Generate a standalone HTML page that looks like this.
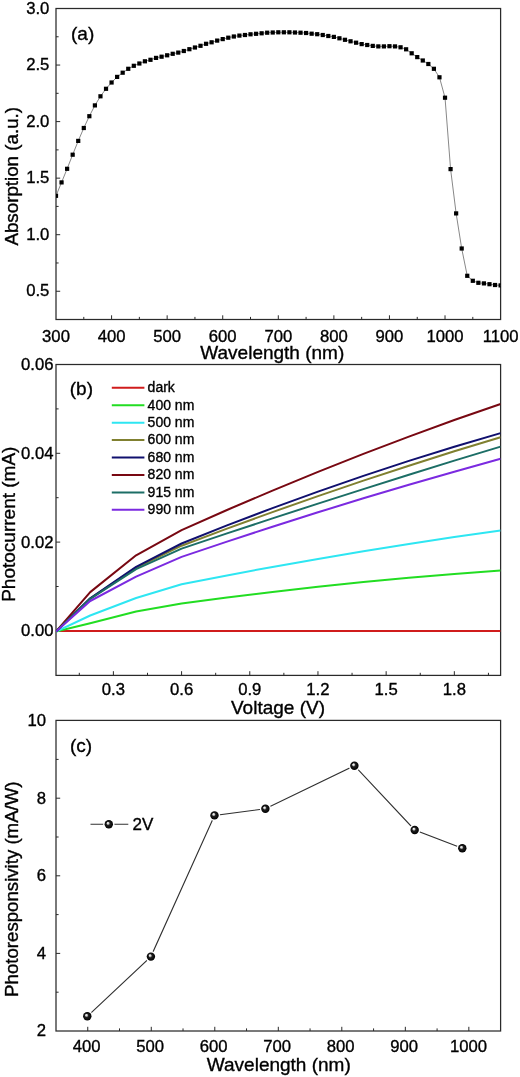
<!DOCTYPE html>
<html><head><meta charset="utf-8"><title>Figure</title>
<style>html,body{margin:0;padding:0;background:#fff;}body{width:520px;height:1077px;overflow:hidden;}svg{display:block;}text{font-family:'Liberation Sans', Arial, sans-serif;}</style>
</head><body>
<svg width="520" height="1077" viewBox="0 0 520 1077" font-family="'Liberation Sans', Arial, sans-serif" fill="#000"><rect x="56.0" y="8.5" width="444.60" height="311.00" fill="none" stroke="#2a2a2a" stroke-width="1.25"/>
<line x1="83.79" y1="319.5" x2="83.79" y2="316.90" stroke="#2a2a2a" stroke-width="1"/>
<line x1="111.58" y1="319.5" x2="111.58" y2="315.30" stroke="#2a2a2a" stroke-width="1"/>
<line x1="139.36" y1="319.5" x2="139.36" y2="316.90" stroke="#2a2a2a" stroke-width="1"/>
<line x1="167.15" y1="319.5" x2="167.15" y2="315.30" stroke="#2a2a2a" stroke-width="1"/>
<line x1="194.94" y1="319.5" x2="194.94" y2="316.90" stroke="#2a2a2a" stroke-width="1"/>
<line x1="222.72" y1="319.5" x2="222.72" y2="315.30" stroke="#2a2a2a" stroke-width="1"/>
<line x1="250.51" y1="319.5" x2="250.51" y2="316.90" stroke="#2a2a2a" stroke-width="1"/>
<line x1="278.30" y1="319.5" x2="278.30" y2="315.30" stroke="#2a2a2a" stroke-width="1"/>
<line x1="306.09" y1="319.5" x2="306.09" y2="316.90" stroke="#2a2a2a" stroke-width="1"/>
<line x1="333.88" y1="319.5" x2="333.88" y2="315.30" stroke="#2a2a2a" stroke-width="1"/>
<line x1="361.66" y1="319.5" x2="361.66" y2="316.90" stroke="#2a2a2a" stroke-width="1"/>
<line x1="389.45" y1="319.5" x2="389.45" y2="315.30" stroke="#2a2a2a" stroke-width="1"/>
<line x1="417.24" y1="319.5" x2="417.24" y2="316.90" stroke="#2a2a2a" stroke-width="1"/>
<line x1="445.02" y1="319.5" x2="445.02" y2="315.30" stroke="#2a2a2a" stroke-width="1"/>
<line x1="472.81" y1="319.5" x2="472.81" y2="316.90" stroke="#2a2a2a" stroke-width="1"/>
<line x1="56.0" y1="36.77" x2="58.60" y2="36.77" stroke="#2a2a2a" stroke-width="1"/>
<line x1="56.0" y1="65.05" x2="60.20" y2="65.05" stroke="#2a2a2a" stroke-width="1"/>
<line x1="56.0" y1="93.32" x2="58.60" y2="93.32" stroke="#2a2a2a" stroke-width="1"/>
<line x1="56.0" y1="121.60" x2="60.20" y2="121.60" stroke="#2a2a2a" stroke-width="1"/>
<line x1="56.0" y1="149.88" x2="58.60" y2="149.88" stroke="#2a2a2a" stroke-width="1"/>
<line x1="56.0" y1="178.15" x2="60.20" y2="178.15" stroke="#2a2a2a" stroke-width="1"/>
<line x1="56.0" y1="206.42" x2="58.60" y2="206.42" stroke="#2a2a2a" stroke-width="1"/>
<line x1="56.0" y1="234.70" x2="60.20" y2="234.70" stroke="#2a2a2a" stroke-width="1"/>
<line x1="56.0" y1="262.98" x2="58.60" y2="262.98" stroke="#2a2a2a" stroke-width="1"/>
<line x1="56.0" y1="291.25" x2="60.20" y2="291.25" stroke="#2a2a2a" stroke-width="1"/>
<text x="56.00" y="342.00" font-size="16.7" text-anchor="middle" stroke="#000" stroke-width="0.35" >300</text>
<text x="111.58" y="342.00" font-size="16.7" text-anchor="middle" stroke="#000" stroke-width="0.35" >400</text>
<text x="167.15" y="342.00" font-size="16.7" text-anchor="middle" stroke="#000" stroke-width="0.35" >500</text>
<text x="222.72" y="342.00" font-size="16.7" text-anchor="middle" stroke="#000" stroke-width="0.35" >600</text>
<text x="278.30" y="342.00" font-size="16.7" text-anchor="middle" stroke="#000" stroke-width="0.35" >700</text>
<text x="333.88" y="342.00" font-size="16.7" text-anchor="middle" stroke="#000" stroke-width="0.35" >800</text>
<text x="389.45" y="342.00" font-size="16.7" text-anchor="middle" stroke="#000" stroke-width="0.35" >900</text>
<text x="445.02" y="342.00" font-size="16.7" text-anchor="middle" stroke="#000" stroke-width="0.35" >1000</text>
<text x="500.60" y="342.00" font-size="16.7" text-anchor="middle" stroke="#000" stroke-width="0.35" >1100</text>
<text x="49.40" y="13.70" font-size="16.7" text-anchor="end" stroke="#000" stroke-width="0.35" >3.0</text>
<text x="49.40" y="70.25" font-size="16.7" text-anchor="end" stroke="#000" stroke-width="0.35" >2.5</text>
<text x="49.40" y="126.80" font-size="16.7" text-anchor="end" stroke="#000" stroke-width="0.35" >2.0</text>
<text x="49.40" y="183.35" font-size="16.7" text-anchor="end" stroke="#000" stroke-width="0.35" >1.5</text>
<text x="49.40" y="239.90" font-size="16.7" text-anchor="end" stroke="#000" stroke-width="0.35" >1.0</text>
<text x="49.40" y="296.45" font-size="16.7" text-anchor="end" stroke="#000" stroke-width="0.35" >0.5</text>
<text x="200.30" y="359.20" font-size="19" text-anchor="start" stroke="#000" stroke-width="0.35" >Wavelength (nm)</text>
<text transform="translate(17.70,245.60) rotate(-90)" x="0" y="0" font-size="18.75" stroke="#000" stroke-width="0.35" >Absorption (a.u.)</text>
<text x="71.00" y="40.40" font-size="19" text-anchor="start" stroke="#000" stroke-width="0.35" >(a)</text>
<defs><clipPath id="ca"><rect x="56" y="8" width="444.6" height="312"/></clipPath><clipPath id="cb"><rect x="56" y="364" width="444.6" height="312"/></clipPath><clipPath id="cc"><rect x="56" y="720" width="444.6" height="312"/></clipPath><radialGradient id="sph" cx="0.5" cy="0.5" r="0.5" fx="0.36" fy="0.33"><stop offset="0" stop-color="#ffffff"/><stop offset="0.22" stop-color="#cfcfcf"/><stop offset="0.45" stop-color="#202020"/><stop offset="1" stop-color="#000"/></radialGradient></defs>
<g clip-path="url(#ca)">
<polyline fill="none" stroke="#888" stroke-width="1" points="56.00,195.80 61.56,182.40 67.11,168.80 72.67,154.70 78.23,140.90 83.79,128.00 89.34,116.20 94.90,105.40 100.46,96.30 106.02,88.80 111.58,82.50 117.13,76.90 122.69,72.70 128.25,68.80 133.81,65.80 139.36,63.50 144.92,61.30 150.48,59.80 156.03,57.90 161.59,56.70 167.15,55.30 172.71,53.80 178.26,52.60 183.82,51.00 189.38,49.20 194.94,47.50 200.50,45.80 206.05,43.80 211.61,42.30 217.17,40.60 222.72,39.10 228.28,37.70 233.84,36.50 239.40,35.60 244.96,35.00 250.51,34.30 256.07,33.80 261.63,33.30 267.19,32.70 272.74,32.50 278.30,32.30 283.86,32.30 289.41,32.30 294.97,32.50 300.53,32.70 306.09,33.00 311.64,33.70 317.20,34.20 322.76,35.00 328.32,36.00 333.88,36.90 339.43,38.30 344.99,39.80 350.55,41.30 356.11,42.70 361.66,44.10 367.22,45.00 372.78,45.90 378.33,46.40 383.89,46.40 389.45,46.20 395.01,46.40 400.56,47.30 406.12,49.30 411.68,53.30 417.24,57.10 422.80,60.50 428.35,64.00 433.91,68.80 439.47,77.30 445.02,97.70 450.58,169.10 456.14,213.40 461.70,248.50 467.25,275.80 472.81,280.80 478.37,282.80 483.93,283.40 489.49,284.20 495.04,285.00 500.60,285.40"/>
<rect x="53.90" y="193.70" width="4.2" height="4.2" fill="#000"/>
<rect x="59.46" y="180.30" width="4.2" height="4.2" fill="#000"/>
<rect x="65.02" y="166.70" width="4.2" height="4.2" fill="#000"/>
<rect x="70.57" y="152.60" width="4.2" height="4.2" fill="#000"/>
<rect x="76.13" y="138.80" width="4.2" height="4.2" fill="#000"/>
<rect x="81.69" y="125.90" width="4.2" height="4.2" fill="#000"/>
<rect x="87.25" y="114.10" width="4.2" height="4.2" fill="#000"/>
<rect x="92.80" y="103.30" width="4.2" height="4.2" fill="#000"/>
<rect x="98.36" y="94.20" width="4.2" height="4.2" fill="#000"/>
<rect x="103.92" y="86.70" width="4.2" height="4.2" fill="#000"/>
<rect x="109.48" y="80.40" width="4.2" height="4.2" fill="#000"/>
<rect x="115.03" y="74.80" width="4.2" height="4.2" fill="#000"/>
<rect x="120.59" y="70.60" width="4.2" height="4.2" fill="#000"/>
<rect x="126.15" y="66.70" width="4.2" height="4.2" fill="#000"/>
<rect x="131.71" y="63.70" width="4.2" height="4.2" fill="#000"/>
<rect x="137.26" y="61.40" width="4.2" height="4.2" fill="#000"/>
<rect x="142.82" y="59.20" width="4.2" height="4.2" fill="#000"/>
<rect x="148.38" y="57.70" width="4.2" height="4.2" fill="#000"/>
<rect x="153.94" y="55.80" width="4.2" height="4.2" fill="#000"/>
<rect x="159.49" y="54.60" width="4.2" height="4.2" fill="#000"/>
<rect x="165.05" y="53.20" width="4.2" height="4.2" fill="#000"/>
<rect x="170.61" y="51.70" width="4.2" height="4.2" fill="#000"/>
<rect x="176.16" y="50.50" width="4.2" height="4.2" fill="#000"/>
<rect x="181.72" y="48.90" width="4.2" height="4.2" fill="#000"/>
<rect x="187.28" y="47.10" width="4.2" height="4.2" fill="#000"/>
<rect x="192.84" y="45.40" width="4.2" height="4.2" fill="#000"/>
<rect x="198.40" y="43.70" width="4.2" height="4.2" fill="#000"/>
<rect x="203.95" y="41.70" width="4.2" height="4.2" fill="#000"/>
<rect x="209.51" y="40.20" width="4.2" height="4.2" fill="#000"/>
<rect x="215.07" y="38.50" width="4.2" height="4.2" fill="#000"/>
<rect x="220.62" y="37.00" width="4.2" height="4.2" fill="#000"/>
<rect x="226.18" y="35.60" width="4.2" height="4.2" fill="#000"/>
<rect x="231.74" y="34.40" width="4.2" height="4.2" fill="#000"/>
<rect x="237.30" y="33.50" width="4.2" height="4.2" fill="#000"/>
<rect x="242.86" y="32.90" width="4.2" height="4.2" fill="#000"/>
<rect x="248.41" y="32.20" width="4.2" height="4.2" fill="#000"/>
<rect x="253.97" y="31.70" width="4.2" height="4.2" fill="#000"/>
<rect x="259.53" y="31.20" width="4.2" height="4.2" fill="#000"/>
<rect x="265.08" y="30.60" width="4.2" height="4.2" fill="#000"/>
<rect x="270.64" y="30.40" width="4.2" height="4.2" fill="#000"/>
<rect x="276.20" y="30.20" width="4.2" height="4.2" fill="#000"/>
<rect x="281.76" y="30.20" width="4.2" height="4.2" fill="#000"/>
<rect x="287.31" y="30.20" width="4.2" height="4.2" fill="#000"/>
<rect x="292.87" y="30.40" width="4.2" height="4.2" fill="#000"/>
<rect x="298.43" y="30.60" width="4.2" height="4.2" fill="#000"/>
<rect x="303.99" y="30.90" width="4.2" height="4.2" fill="#000"/>
<rect x="309.54" y="31.60" width="4.2" height="4.2" fill="#000"/>
<rect x="315.10" y="32.10" width="4.2" height="4.2" fill="#000"/>
<rect x="320.66" y="32.90" width="4.2" height="4.2" fill="#000"/>
<rect x="326.22" y="33.90" width="4.2" height="4.2" fill="#000"/>
<rect x="331.77" y="34.80" width="4.2" height="4.2" fill="#000"/>
<rect x="337.33" y="36.20" width="4.2" height="4.2" fill="#000"/>
<rect x="342.89" y="37.70" width="4.2" height="4.2" fill="#000"/>
<rect x="348.45" y="39.20" width="4.2" height="4.2" fill="#000"/>
<rect x="354.00" y="40.60" width="4.2" height="4.2" fill="#000"/>
<rect x="359.56" y="42.00" width="4.2" height="4.2" fill="#000"/>
<rect x="365.12" y="42.90" width="4.2" height="4.2" fill="#000"/>
<rect x="370.68" y="43.80" width="4.2" height="4.2" fill="#000"/>
<rect x="376.23" y="44.30" width="4.2" height="4.2" fill="#000"/>
<rect x="381.79" y="44.30" width="4.2" height="4.2" fill="#000"/>
<rect x="387.35" y="44.10" width="4.2" height="4.2" fill="#000"/>
<rect x="392.91" y="44.30" width="4.2" height="4.2" fill="#000"/>
<rect x="398.46" y="45.20" width="4.2" height="4.2" fill="#000"/>
<rect x="404.02" y="47.20" width="4.2" height="4.2" fill="#000"/>
<rect x="409.58" y="51.20" width="4.2" height="4.2" fill="#000"/>
<rect x="415.14" y="55.00" width="4.2" height="4.2" fill="#000"/>
<rect x="420.69" y="58.40" width="4.2" height="4.2" fill="#000"/>
<rect x="426.25" y="61.90" width="4.2" height="4.2" fill="#000"/>
<rect x="431.81" y="66.70" width="4.2" height="4.2" fill="#000"/>
<rect x="437.37" y="75.20" width="4.2" height="4.2" fill="#000"/>
<rect x="442.92" y="95.60" width="4.2" height="4.2" fill="#000"/>
<rect x="448.48" y="167.00" width="4.2" height="4.2" fill="#000"/>
<rect x="454.04" y="211.30" width="4.2" height="4.2" fill="#000"/>
<rect x="459.60" y="246.40" width="4.2" height="4.2" fill="#000"/>
<rect x="465.15" y="273.70" width="4.2" height="4.2" fill="#000"/>
<rect x="470.71" y="278.70" width="4.2" height="4.2" fill="#000"/>
<rect x="476.27" y="280.70" width="4.2" height="4.2" fill="#000"/>
<rect x="481.83" y="281.30" width="4.2" height="4.2" fill="#000"/>
<rect x="487.38" y="282.10" width="4.2" height="4.2" fill="#000"/>
<rect x="492.94" y="282.90" width="4.2" height="4.2" fill="#000"/>
<rect x="498.50" y="283.30" width="4.2" height="4.2" fill="#000"/>
</g>
<rect x="56.0" y="364.5" width="444.60" height="310.90" fill="none" stroke="#2a2a2a" stroke-width="1.25"/>
<line x1="79.30" y1="675.4" x2="79.30" y2="672.80" stroke="#2a2a2a" stroke-width="1"/>
<line x1="113.39" y1="675.4" x2="113.39" y2="671.20" stroke="#2a2a2a" stroke-width="1"/>
<line x1="147.49" y1="675.4" x2="147.49" y2="672.80" stroke="#2a2a2a" stroke-width="1"/>
<line x1="181.58" y1="675.4" x2="181.58" y2="671.20" stroke="#2a2a2a" stroke-width="1"/>
<line x1="215.68" y1="675.4" x2="215.68" y2="672.80" stroke="#2a2a2a" stroke-width="1"/>
<line x1="249.77" y1="675.4" x2="249.77" y2="671.20" stroke="#2a2a2a" stroke-width="1"/>
<line x1="283.87" y1="675.4" x2="283.87" y2="672.80" stroke="#2a2a2a" stroke-width="1"/>
<line x1="317.96" y1="675.4" x2="317.96" y2="671.20" stroke="#2a2a2a" stroke-width="1"/>
<line x1="352.05" y1="675.4" x2="352.05" y2="672.80" stroke="#2a2a2a" stroke-width="1"/>
<line x1="386.15" y1="675.4" x2="386.15" y2="671.20" stroke="#2a2a2a" stroke-width="1"/>
<line x1="420.25" y1="675.4" x2="420.25" y2="672.80" stroke="#2a2a2a" stroke-width="1"/>
<line x1="454.34" y1="675.4" x2="454.34" y2="671.20" stroke="#2a2a2a" stroke-width="1"/>
<line x1="488.44" y1="675.4" x2="488.44" y2="672.80" stroke="#2a2a2a" stroke-width="1"/>
<line x1="56.0" y1="630.90" x2="60.20" y2="630.90" stroke="#2a2a2a" stroke-width="1"/>
<line x1="56.0" y1="586.50" x2="58.60" y2="586.50" stroke="#2a2a2a" stroke-width="1"/>
<line x1="56.0" y1="542.10" x2="60.20" y2="542.10" stroke="#2a2a2a" stroke-width="1"/>
<line x1="56.0" y1="497.70" x2="58.60" y2="497.70" stroke="#2a2a2a" stroke-width="1"/>
<line x1="56.0" y1="453.30" x2="60.20" y2="453.30" stroke="#2a2a2a" stroke-width="1"/>
<line x1="56.0" y1="408.90" x2="58.60" y2="408.90" stroke="#2a2a2a" stroke-width="1"/>
<text x="113.39" y="695.40" font-size="16.7" text-anchor="middle" stroke="#000" stroke-width="0.35" >0.3</text>
<text x="181.58" y="695.40" font-size="16.7" text-anchor="middle" stroke="#000" stroke-width="0.35" >0.6</text>
<text x="249.77" y="695.40" font-size="16.7" text-anchor="middle" stroke="#000" stroke-width="0.35" >0.9</text>
<text x="317.96" y="695.40" font-size="16.7" text-anchor="middle" stroke="#000" stroke-width="0.35" >1.2</text>
<text x="386.15" y="695.40" font-size="16.7" text-anchor="middle" stroke="#000" stroke-width="0.35" >1.5</text>
<text x="454.34" y="695.40" font-size="16.7" text-anchor="middle" stroke="#000" stroke-width="0.35" >1.8</text>
<text x="53.50" y="369.90" font-size="16.7" text-anchor="end" stroke="#000" stroke-width="0.35" >0.06</text>
<text x="53.50" y="458.70" font-size="16.7" text-anchor="end" stroke="#000" stroke-width="0.35" >0.04</text>
<text x="53.50" y="547.50" font-size="16.7" text-anchor="end" stroke="#000" stroke-width="0.35" >0.02</text>
<text x="53.50" y="636.30" font-size="16.7" text-anchor="end" stroke="#000" stroke-width="0.35" >0.00</text>
<text x="231.00" y="714.40" font-size="19" text-anchor="start" stroke="#000" stroke-width="0.35" >Voltage (V)</text>
<text transform="translate(15.00,601.80) rotate(-90)" x="0" y="0" font-size="19" stroke="#000" stroke-width="0.35" >Photocurrent (mA)</text>
<text x="69.80" y="394.90" font-size="19" text-anchor="start" stroke="#000" stroke-width="0.35" >(b)</text>
<g clip-path="url(#cb)">
<polyline fill="none" stroke="#d01c1c" stroke-width="2" stroke-linejoin="round" points="56.00,631.00 90.20,631.00 136.10,631.00 181.60,631.00 227.00,631.00 272.50,631.00 318.00,631.00 363.40,631.00 408.90,631.00 454.30,631.00 500.60,631.00"/>
<polyline fill="none" stroke="#22dd22" stroke-width="2" stroke-linejoin="round" points="56.00,631.50 90.20,623.20 136.10,611.50 181.60,603.40 227.00,597.40 272.50,591.90 318.00,586.70 363.40,582.00 408.90,577.70 454.30,573.90 500.60,570.40"/>
<polyline fill="none" stroke="#2ee6f2" stroke-width="2" stroke-linejoin="round" points="56.00,631.50 90.20,615.50 136.10,598.00 181.60,584.20 227.00,575.40 272.50,566.90 318.00,558.90 363.40,551.20 408.90,543.90 454.30,537.10 500.60,530.50"/>
<polyline fill="none" stroke="#808030" stroke-width="2" stroke-linejoin="round" points="56.00,631.50 90.20,598.60 136.10,567.90 181.60,545.70 227.00,528.60 272.50,512.10 318.00,496.10 363.40,480.60 408.90,465.70 454.30,451.20 500.60,437.20"/>
<polyline fill="none" stroke="#10106e" stroke-width="2" stroke-linejoin="round" points="56.00,631.50 90.20,598.30 136.10,566.90 181.60,543.50 227.00,525.40 272.50,508.10 318.00,491.60 363.40,475.90 408.90,460.90 454.30,446.70 500.60,433.10"/>
<polyline fill="none" stroke="#780812" stroke-width="2" stroke-linejoin="round" points="56.00,631.50 90.20,592.10 136.10,555.30 181.60,530.10 227.00,510.00 272.50,490.60 318.00,471.90 363.40,453.90 408.90,436.60 454.30,420.00 500.60,404.00"/>
<polyline fill="none" stroke="#1c6e66" stroke-width="2" stroke-linejoin="round" points="56.00,631.50 90.20,598.80 136.10,569.20 181.60,548.60 227.00,533.40 272.50,518.40 318.00,503.60 363.40,489.10 408.90,474.70 454.30,460.60 500.60,446.60"/>
<polyline fill="none" stroke="#7b2ae0" stroke-width="2" stroke-linejoin="round" points="56.00,631.50 90.20,601.00 136.10,576.70 181.60,556.90 227.00,541.60 272.50,526.70 318.00,512.30 363.40,498.30 408.90,484.80 454.30,471.70 500.60,458.80"/>
</g>
<line x1="111.8" y1="387.80" x2="144.4" y2="387.80" stroke="#d01c1c" stroke-width="2"/>
<text x="147.60" y="392.20" font-size="14" text-anchor="start" stroke="#000" stroke-width="0.35" >dark</text>
<line x1="111.8" y1="405.23" x2="144.4" y2="405.23" stroke="#22dd22" stroke-width="2"/>
<text x="147.60" y="409.63" font-size="14" text-anchor="start" stroke="#000" stroke-width="0.35" >400 nm</text>
<line x1="111.8" y1="422.66" x2="144.4" y2="422.66" stroke="#2ee6f2" stroke-width="2"/>
<text x="147.60" y="427.06" font-size="14" text-anchor="start" stroke="#000" stroke-width="0.35" >500 nm</text>
<line x1="111.8" y1="440.09" x2="144.4" y2="440.09" stroke="#808030" stroke-width="2"/>
<text x="147.60" y="444.49" font-size="14" text-anchor="start" stroke="#000" stroke-width="0.35" >600 nm</text>
<line x1="111.8" y1="457.52" x2="144.4" y2="457.52" stroke="#10106e" stroke-width="2"/>
<text x="147.60" y="461.92" font-size="14" text-anchor="start" stroke="#000" stroke-width="0.35" >680 nm</text>
<line x1="111.8" y1="474.95" x2="144.4" y2="474.95" stroke="#780812" stroke-width="2"/>
<text x="147.60" y="479.35" font-size="14" text-anchor="start" stroke="#000" stroke-width="0.35" >820 nm</text>
<line x1="111.8" y1="492.38" x2="144.4" y2="492.38" stroke="#1c6e66" stroke-width="2"/>
<text x="147.60" y="496.78" font-size="14" text-anchor="start" stroke="#000" stroke-width="0.35" >915 nm</text>
<line x1="111.8" y1="509.81" x2="144.4" y2="509.81" stroke="#7b2ae0" stroke-width="2"/>
<text x="147.60" y="514.21" font-size="14" text-anchor="start" stroke="#000" stroke-width="0.35" >990 nm</text>
<rect x="56.0" y="720.4" width="444.60" height="310.60" fill="none" stroke="#2a2a2a" stroke-width="1.25"/>
<line x1="87.76" y1="1031.0" x2="87.76" y2="1026.80" stroke="#2a2a2a" stroke-width="1"/>
<line x1="119.51" y1="1031.0" x2="119.51" y2="1028.40" stroke="#2a2a2a" stroke-width="1"/>
<line x1="151.27" y1="1031.0" x2="151.27" y2="1026.80" stroke="#2a2a2a" stroke-width="1"/>
<line x1="183.03" y1="1031.0" x2="183.03" y2="1028.40" stroke="#2a2a2a" stroke-width="1"/>
<line x1="214.79" y1="1031.0" x2="214.79" y2="1026.80" stroke="#2a2a2a" stroke-width="1"/>
<line x1="246.54" y1="1031.0" x2="246.54" y2="1028.40" stroke="#2a2a2a" stroke-width="1"/>
<line x1="278.30" y1="1031.0" x2="278.30" y2="1026.80" stroke="#2a2a2a" stroke-width="1"/>
<line x1="310.06" y1="1031.0" x2="310.06" y2="1028.40" stroke="#2a2a2a" stroke-width="1"/>
<line x1="341.81" y1="1031.0" x2="341.81" y2="1026.80" stroke="#2a2a2a" stroke-width="1"/>
<line x1="373.57" y1="1031.0" x2="373.57" y2="1028.40" stroke="#2a2a2a" stroke-width="1"/>
<line x1="405.33" y1="1031.0" x2="405.33" y2="1026.80" stroke="#2a2a2a" stroke-width="1"/>
<line x1="437.09" y1="1031.0" x2="437.09" y2="1028.40" stroke="#2a2a2a" stroke-width="1"/>
<line x1="468.84" y1="1031.0" x2="468.84" y2="1026.80" stroke="#2a2a2a" stroke-width="1"/>
<line x1="56.0" y1="992.20" x2="58.60" y2="992.20" stroke="#2a2a2a" stroke-width="1"/>
<line x1="56.0" y1="953.40" x2="60.20" y2="953.40" stroke="#2a2a2a" stroke-width="1"/>
<line x1="56.0" y1="914.60" x2="58.60" y2="914.60" stroke="#2a2a2a" stroke-width="1"/>
<line x1="56.0" y1="875.80" x2="60.20" y2="875.80" stroke="#2a2a2a" stroke-width="1"/>
<line x1="56.0" y1="837.00" x2="58.60" y2="837.00" stroke="#2a2a2a" stroke-width="1"/>
<line x1="56.0" y1="798.20" x2="60.20" y2="798.20" stroke="#2a2a2a" stroke-width="1"/>
<line x1="56.0" y1="759.40" x2="58.60" y2="759.40" stroke="#2a2a2a" stroke-width="1"/>
<text x="86.56" y="1051.60" font-size="16.7" text-anchor="middle" stroke="#000" stroke-width="0.35" >400</text>
<text x="150.07" y="1051.60" font-size="16.7" text-anchor="middle" stroke="#000" stroke-width="0.35" >500</text>
<text x="213.59" y="1051.60" font-size="16.7" text-anchor="middle" stroke="#000" stroke-width="0.35" >600</text>
<text x="277.10" y="1051.60" font-size="16.7" text-anchor="middle" stroke="#000" stroke-width="0.35" >700</text>
<text x="340.61" y="1051.60" font-size="16.7" text-anchor="middle" stroke="#000" stroke-width="0.35" >800</text>
<text x="404.13" y="1051.60" font-size="16.7" text-anchor="middle" stroke="#000" stroke-width="0.35" >900</text>
<text x="468.54" y="1051.60" font-size="16.7" text-anchor="middle" stroke="#000" stroke-width="0.35" >1000</text>
<text x="46.00" y="726.00" font-size="16.7" text-anchor="end" stroke="#000" stroke-width="0.35" >10</text>
<text x="46.00" y="803.60" font-size="16.7" text-anchor="end" stroke="#000" stroke-width="0.35" >8</text>
<text x="46.00" y="881.20" font-size="16.7" text-anchor="end" stroke="#000" stroke-width="0.35" >6</text>
<text x="46.00" y="958.80" font-size="16.7" text-anchor="end" stroke="#000" stroke-width="0.35" >4</text>
<text x="46.00" y="1036.40" font-size="16.7" text-anchor="end" stroke="#000" stroke-width="0.35" >2</text>
<text x="206.80" y="1071.30" font-size="19" text-anchor="start" stroke="#000" stroke-width="0.35" >Wavelength (nm)</text>
<text transform="translate(18.00,996.90) rotate(-90)" x="0" y="0" font-size="18.65" stroke="#000" stroke-width="0.35" >Photoresponsivity (mA/W)</text>
<text x="70.00" y="751.70" font-size="19" text-anchor="start" stroke="#000" stroke-width="0.35" >(c)</text>
<g clip-path="url(#cc)">
<polyline fill="none" stroke="#303030" stroke-width="1.1" points="87.30,1016.30 150.90,956.60 214.50,815.40 265.40,808.80 354.40,765.70 414.70,830.00 462.30,848.30"/>
<circle cx="87.3" cy="1016.3" r="5.6" fill="#fff"/>
<circle cx="87.3" cy="1016.3" r="4.2" fill="url(#sph)"/>
<circle cx="150.9" cy="956.6" r="5.6" fill="#fff"/>
<circle cx="150.9" cy="956.6" r="4.2" fill="url(#sph)"/>
<circle cx="214.5" cy="815.4" r="5.6" fill="#fff"/>
<circle cx="214.5" cy="815.4" r="4.2" fill="url(#sph)"/>
<circle cx="265.4" cy="808.8" r="5.6" fill="#fff"/>
<circle cx="265.4" cy="808.8" r="4.2" fill="url(#sph)"/>
<circle cx="354.4" cy="765.7" r="5.6" fill="#fff"/>
<circle cx="354.4" cy="765.7" r="4.2" fill="url(#sph)"/>
<circle cx="414.7" cy="830.0" r="5.6" fill="#fff"/>
<circle cx="414.7" cy="830.0" r="4.2" fill="url(#sph)"/>
<circle cx="462.3" cy="848.3" r="5.6" fill="#fff"/>
<circle cx="462.3" cy="848.3" r="4.2" fill="url(#sph)"/>
</g>
<line x1="90.5" y1="824.3" x2="128.3" y2="824.3" stroke="#303030" stroke-width="1.1"/>
<circle cx="108.8" cy="824.3" r="5.6" fill="#fff"/>
<circle cx="108.8" cy="824.3" r="4.2" fill="url(#sph)"/>
<text x="132.60" y="829.70" font-size="17" text-anchor="start" stroke="#000" stroke-width="0.35" >2V</text></svg>
</body></html>
